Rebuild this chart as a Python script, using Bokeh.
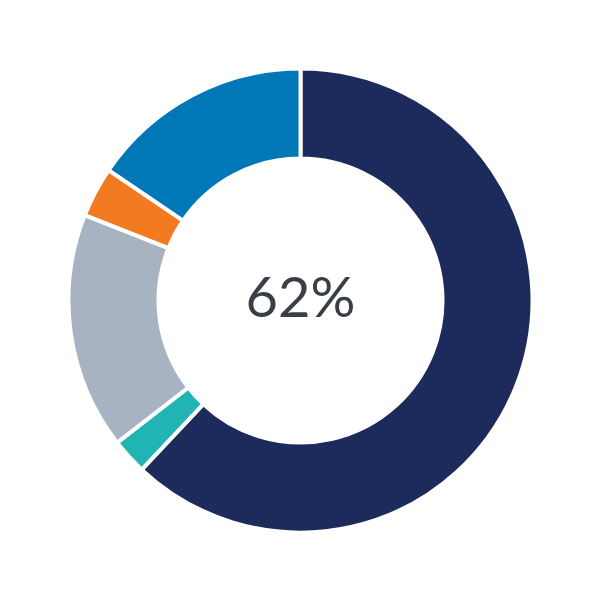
import numpy as np
from bokeh.plotting import figure
from bokeh.models import ColumnDataSource
from bokeh.embed import file_html
from bokeh.resources import INLINE
from bokeh.core.properties import value

# Data
categories = ["A", "B", "C", "D", "E"]
shares = [62.0, 2.5, 16.5, 3.5, 15.5]
colors = ["#1c2b5b", "#20b5b3", "#a8b3c2", "#f27b21", "#0077b6"]
center_label = "62%"

frac = np.array(shares) / sum(shares)
cum = np.concatenate([[0], np.cumsum(frac)])
start = np.pi / 2 - cum[:-1] * 2 * np.pi
end = np.pi / 2 - cum[1:] * 2 * np.pi

src = ColumnDataSource(dict(cat=categories, start=start, end=end, color=colors))

W = 584
p = figure(width=W, height=W, x_range=(-300, W - 300), y_range=(300 - W, 300),
           output_backend="svg", toolbar_location=None, min_border=0)
p.axis.visible = False
p.grid.visible = False
p.outline_line_color = None
p.background_fill_color = "white"
p.border_fill_color = "white"

p.annular_wedge(x=0, y=0, inner_radius=142, outer_radius=232,
                start_angle="start", end_angle="end", direction="clock",
                fill_color="color", line_color="white", line_width=4, source=src)

p.text(x=[0], y=[5], text=[center_label], text_align="center", text_baseline="middle",
       text_font=value("Lato"), text_font_size="56px", text_color="#3a3f47")

open("out.html", "w").write(file_html(p, INLINE))
